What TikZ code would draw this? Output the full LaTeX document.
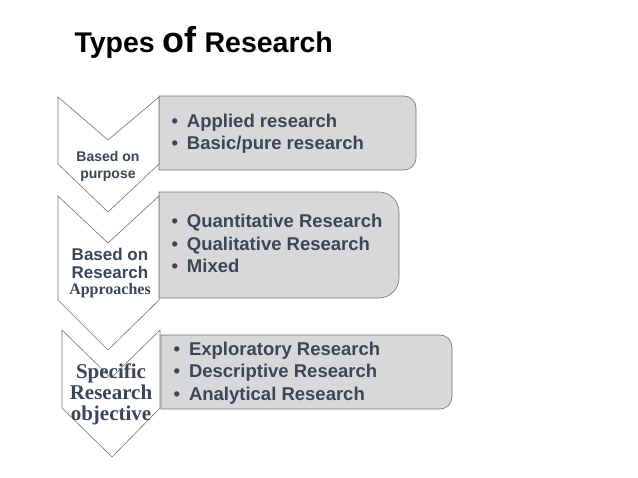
\documentclass[tikz,border=0pt]{standalone}
\usepackage{fontspec}
\setmainfont{Liberation Sans}
\newfontfamily\serifb{Liberation Serif}
\begin{document}
\begin{tikzpicture}[x=1pt,y=-1pt,
  chev/.style={draw=black!55,fill=white,line width=0.6pt},
  box/.style={draw=black!55,fill=black!4!blue!3!gray!30,line width=0.6pt},
  itm/.style={anchor=base west,text=txt,font=\bfseries\fontsize{18.5}{18.5}\selectfont},
  lab/.style={text=txt,align=center,font=\bfseries}]
\definecolor{txt}{HTML}{3B4656}
\useasboundingbox (0,0) rectangle (638,478);
\node[anchor=base west,font=\bfseries\fontsize{28.5}{28.5}\selectfont] (t) at (71,53) {Types {\fontsize{36}{36}\selectfont of} Research};
% boxes
\draw[box] (159,96) -- (404,96) arc[start angle=-90,end angle=0,radius=12] -- (416,158) arc[start angle=0,end angle=90,radius=12] -- (159,170) -- cycle;
\draw[box] (159,192) -- (379,192) arc[start angle=-90,end angle=0,radius=20] -- (399,278) arc[start angle=0,end angle=90,radius=20] -- (159,298) -- cycle;
\draw[box] (161,335) -- (440,335) arc[start angle=-90,end angle=0,radius=12] -- (452,397) arc[start angle=0,end angle=90,radius=12] -- (161,409) -- cycle;
% chevrons
\draw[chev] (58,97) -- (108,140) -- (159,97) -- (159,164) -- (108,212) -- (58,164) -- cycle;
\draw[chev] (58,196) -- (108,243) -- (159,196) -- (159,300) -- (108,350) -- (58,300) -- cycle;
\draw[chev] (62,330) -- (111,378) -- (160,330) -- (160,408) -- (112,457) -- (62,408) -- cycle;
% labels
\node[lab,font=\bfseries\fontsize{14}{17}\selectfont] (l1) at (108,166) {Based on\\purpose};
\node[lab,font=\bfseries\fontsize{17}{18}\selectfont] (l2) at (110,263) {Based on\\Research};
\node[lab,font=\serifb\bfseries\fontsize{16}{16}\selectfont] (l2b) at (110,291) {Approaches};
\node[lab,font=\serifb\bfseries\fontsize{21}{21}\selectfont] (l3) at (111,394) {Specific\\Research\\objective};
% items
\node[itm] (a1) at (168,128) {•\hspace{9pt}Applied research};
\node[itm] (a2) at (168,150) {•\hspace{9pt}Basic/pure research};
\node[itm] (b1) at (168,228) {•\hspace{9pt}Quantitative Research};
\node[itm] (b2) at (168,251) {•\hspace{9pt}Qualitative Research};
\node[itm] (b3) at (168,273) {•\hspace{9pt}Mixed};
\node[itm] (c1) at (170,356) {•\hspace{9pt}Exploratory Research};
\node[itm] (c2) at (170,378) {•\hspace{9pt}Descriptive Research};
\node[itm] (c3) at (170,401) {•\hspace{9pt}Analytical Research};
\end{tikzpicture}
\end{document}
